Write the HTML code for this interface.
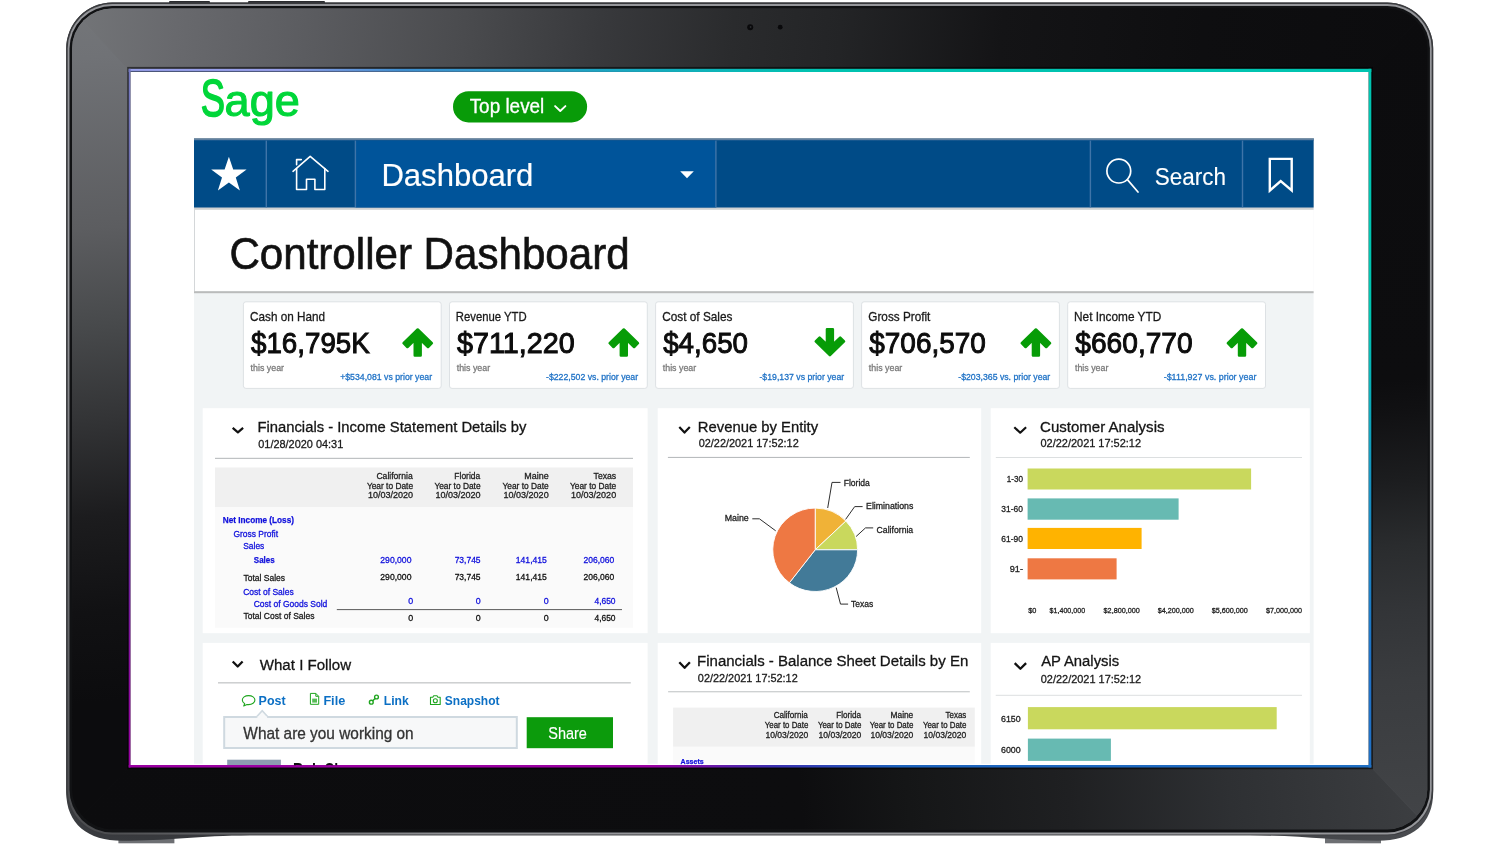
<!DOCTYPE html>
<html lang="en"><head><meta charset="utf-8"><title>Controller Dashboard</title><style>html,body{margin:0;padding:0;background:#fff}
body{width:1499px;height:844px;overflow:hidden;font-family:"Liberation Sans",sans-serif;}
svg{display:block}
</style></head><body>
<svg width="1499" height="844" viewBox="0 0 1499 844" font-family="Liberation Sans, sans-serif">
<svg x="0" y="0" width="1499" height="844" viewBox="0 0 1499 844">
<defs><linearGradient id="fg" gradientUnits="userSpaceOnUse" x1="66" y1="3" x2="889.0" y2="1201.1"><stop offset="0.0000" stop-color="#76787b"/><stop offset="0.0413" stop-color="#707276"/><stop offset="0.1238" stop-color="#5c5d61"/><stop offset="0.1836" stop-color="#494a4d"/><stop offset="0.2373" stop-color="#353638"/><stop offset="0.2889" stop-color="#252628"/><stop offset="0.3370" stop-color="#1a1a1c"/><stop offset="0.3851" stop-color="#131315"/><stop offset="0.4470" stop-color="#0d0d0f"/><stop offset="0.7015" stop-color="#0d0d0f"/><stop offset="0.7565" stop-color="#18191b"/><stop offset="0.8116" stop-color="#262729"/><stop offset="0.8666" stop-color="#343638"/><stop offset="0.9216" stop-color="#404245"/><stop offset="0.9766" stop-color="#45474b"/><stop offset="1.0000" stop-color="#46484c"/></linearGradient>
<linearGradient id="ll" gradientUnits="userSpaceOnUse" x1="90" y1="820" x2="330" y2="640"><stop offset="0" stop-color="#4c4d50"/><stop offset="1" stop-color="#95969a"/></linearGradient><linearGradient id="rim" x1="0" y1="0" x2="1" y2="0"><stop offset="0" stop-color="#3a3c40"/><stop offset="0.5" stop-color="#2a2b2e"/><stop offset="1" stop-color="#4a4c50"/></linearGradient></defs>
<rect x="118.4" y="838" width="56" height="5.3" fill="#6d6f73"/>
<rect x="1325" y="838" width="56" height="5.3" fill="#6d6f73"/>
<rect x="169" y="0.9" width="41" height="4" rx="1" fill="#2a2b2e"/>
<rect x="248" y="0.9" width="77" height="4" rx="1" fill="#2a2b2e"/>
<path d="M66.2,48.8 A46,46 0 0 1 112.2,2.6 H1386.8 A46,46 0 0 1 1433.2,48.8 V792 C1433.2,824 1412,840.8 1378,840.8 C1335,840.8 1300,835.6 1250,835.2 H250 C200,835.6 165,840.8 122,840.8 C88,840.8 66.2,824 66.2,792 Z" fill="url(#rim)"/>
<rect x="66.2" y="2.6" width="1367" height="832.6" rx="46" ry="46" fill="#3a3b3e"/>
<rect x="67.7" y="4.1" width="1364" height="830.4" rx="44.5" ry="44.5" fill="url(#ll)"/>
<rect x="69.5" y="5.9" width="1360.4" height="826.5" rx="42.7" ry="42.7" fill="#111214"/>
<defs><linearGradient id="gt" gradientUnits="userSpaceOnUse" x1="66" y1="-25" x2="1433" y2="95"><stop offset="0.0000" stop-color="#747679"/><stop offset="0.0834" stop-color="#68696d"/><stop offset="0.1712" stop-color="#5c5d61"/><stop offset="0.2926" stop-color="#4a4b4e"/><stop offset="0.3906" stop-color="#38393c"/><stop offset="0.4879" stop-color="#2a2b2d"/><stop offset="0.5662" stop-color="#232426"/><stop offset="0.6832" stop-color="#141416"/><stop offset="0.8296" stop-color="#0e0e10"/><stop offset="1.0000" stop-color="#0c0c0e"/></linearGradient><linearGradient id="gl" gradientUnits="userSpaceOnUse" x1="58" y1="3" x2="138" y2="835"><stop offset="0.0000" stop-color="#747679"/><stop offset="0.0685" stop-color="#707276"/><stop offset="0.2728" stop-color="#5c5d60"/><stop offset="0.3858" stop-color="#484a4c"/><stop offset="0.5000" stop-color="#333436"/><stop offset="0.6154" stop-color="#1c1c1e"/><stop offset="0.7296" stop-color="#111113"/><stop offset="0.8377" stop-color="#0c0c0e"/><stop offset="1.0000" stop-color="#0c0c0e"/></linearGradient><linearGradient id="gr" gradientUnits="userSpaceOnUse" x1="1360" y1="3" x2="1440" y2="835"><stop offset="0.0000" stop-color="#0c0c0e"/><stop offset="0.4531" stop-color="#0d0d0f"/><stop offset="0.4928" stop-color="#111113"/><stop offset="0.5733" stop-color="#1c1d1f"/><stop offset="0.6514" stop-color="#2a2c2e"/><stop offset="0.7296" stop-color="#333538"/><stop offset="0.8113" stop-color="#3a3c3f"/><stop offset="0.9315" stop-color="#404245"/><stop offset="1.0000" stop-color="#434548"/></linearGradient><linearGradient id="gb" gradientUnits="userSpaceOnUse" x1="66" y1="860" x2="1433" y2="740"><stop offset="0.0000" stop-color="#0c0c0e"/><stop offset="0.5369" stop-color="#0d0d0f"/><stop offset="0.6152" stop-color="#151617"/><stop offset="0.7323" stop-color="#1f2022"/><stop offset="0.8493" stop-color="#2e3033"/><stop offset="0.9663" stop-color="#3a3c3f"/><stop offset="1.0000" stop-color="#3e4043"/></linearGradient><clipPath id="fc"><rect x="72.1" y="8.5" width="1355.2" height="820.8" rx="40.1" ry="40.1"/></clipPath></defs>
<g clip-path="url(#fc)">
<rect x="60" y="0" width="1380" height="844" fill="url(#fg)"/>
<polygon points="60,-3 1440,-3 1371.5,69 128.5,69" fill="url(#gt)"/>
<polygon points="60,840 1440,840 1371.5,768 128.5,768" fill="url(#gb)"/>
<polygon points="60,-2 129.4,70.6 129.4,766.4 60,839" fill="url(#gl)"/>
<polygon points="1440,-2 1370.6,70.6 1370.6,766.4 1440,839" fill="url(#gr)"/>
</g>
<circle cx="750.2" cy="27.2" r="3" fill="#09090b"/><circle cx="750.6" cy="27" r="0.9" fill="#2a2c30"/>
<circle cx="780.2" cy="27.2" r="2.4" fill="#09090b"/>
</svg>
<svg x="0" y="0" width="1499" height="844" viewBox="0 0 1499 844">
<defs>
<linearGradient id="bt" x1="0" y1="0" x2="1" y2="0"><stop offset="0" stop-color="#98a0ec"/><stop offset="0.12" stop-color="#98a0ec"/><stop offset="0.22" stop-color="#3f8fd0"/><stop offset="0.4" stop-color="#18a8c0"/><stop offset="0.55" stop-color="#00c2b0"/><stop offset="1" stop-color="#00c4b0"/></linearGradient>
<linearGradient id="bs" x1="0" y1="0" x2="1" y2="0"><stop offset="0" stop-color="#4a5578"/><stop offset="0.3" stop-color="#4a5578" stop-opacity="0.9"/><stop offset="1" stop-color="#2a7890" stop-opacity="0"/></linearGradient><linearGradient id="bb" x1="0" y1="0" x2="1" y2="0"><stop offset="0" stop-color="#9a00a2"/><stop offset="0.42" stop-color="#9a00a2"/><stop offset="0.52" stop-color="#3a30b0"/><stop offset="0.62" stop-color="#1c62bc"/><stop offset="1" stop-color="#2070c4"/></linearGradient>
<linearGradient id="bl" x1="0" y1="0" x2="0" y2="1"><stop offset="0" stop-color="#7478c0"/><stop offset="0.2" stop-color="#6a69a8"/><stop offset="0.55" stop-color="#4a38a0"/><stop offset="0.85" stop-color="#8a10a0"/><stop offset="1" stop-color="#9a00a2"/></linearGradient>
<linearGradient id="br" x1="0" y1="0" x2="0" y2="1"><stop offset="0" stop-color="#00c4b0"/><stop offset="0.35" stop-color="#00c4b0"/><stop offset="0.6" stop-color="#1890c0"/><stop offset="0.85" stop-color="#2070c4"/><stop offset="1" stop-color="#2070c4"/></linearGradient>
</defs>
<rect x="127.2" y="66.9" width="1245.8" height="702.3" fill="#000" fill-opacity="0.55"/>
<rect x="128.7" y="68.8" width="1242.6" height="698.7" fill="#101012"/>
<rect x="128.7" y="68.8" width="1242.6" height="3.2" fill="url(#bt)"/>
<rect x="128.7" y="70.9" width="600" height="1.1" fill="url(#bs)"/>
<rect x="128.7" y="765" width="1242.6" height="2.5" fill="url(#bb)"/>
<rect x="128.7" y="68.8" width="1.9" height="698.7" fill="url(#bl)"/>
<rect x="1368.5" y="68.8" width="2.8" height="698.7" fill="url(#br)"/>
<rect x="130.6" y="72" width="1237.9" height="693" fill="#fff"/>
</svg>
<rect x="194.00" y="209.60" width="1119.60" height="554.20" fill="#f1f4f5"/>
<rect x="194.00" y="209.60" width="1119.60" height="81.70" fill="#fff"/>
<rect x="194.00" y="209.60" width="1.00" height="81.70" fill="#d4d7d9"/>
<rect x="194.00" y="291.20" width="1119.60" height="2.00" fill="#babbbb"/>
<rect x="453" y="91.3" width="134.1" height="31.1" rx="15.55" fill="#089b08"/>
<path d="M555.1,106.1 L560.25,111 L565.4,106.1" fill="none" stroke="#fff" stroke-width="1.9" stroke-linecap="round" stroke-linejoin="round"/>
<rect x="194.00" y="138.20" width="1119.60" height="71.60" fill="#cfd1d2"/>
<rect x="194.00" y="138.20" width="1119.60" height="69.30" fill="#004b87"/>
<defs><linearGradient id="nt" x1="0" y1="0" x2="0" y2="1"><stop offset="0" stop-color="#9aa5b0"/><stop offset="0.55" stop-color="#5f7f9f"/><stop offset="1" stop-color="#1f5c92"/></linearGradient></defs>
<rect x="194.00" y="138.20" width="1119.60" height="2.40" fill="url(#nt)"/>
<rect x="356.00" y="140.60" width="359.90" height="66.80" fill="#00549a"/>
<rect x="265.60" y="140.60" width="1.40" height="66.70" fill="#3f74a8"/>
<rect x="354.70" y="140.60" width="1.40" height="66.70" fill="#3f74a8"/>
<rect x="715.20" y="140.60" width="1.40" height="66.70" fill="#3f74a8"/>
<rect x="1089.70" y="140.60" width="1.40" height="66.70" fill="#3f74a8"/>
<rect x="1241.80" y="140.60" width="1.40" height="66.70" fill="#3f74a8"/>
<svg x="209" y="154" width="40" height="40" viewBox="0 0 40 40"><polygon fill="#fff" points="19.9,2.8 24.2,15.6 37.6,15.6 26.8,23.6 30.9,36.4 19.9,28.5 8.9,36.4 13,23.6 2.2,15.6 15.6,15.6"/></svg>
<svg x="290" y="153" width="42" height="40" viewBox="0 0 42 40"><g fill="none" stroke="#fff" stroke-width="1.6" stroke-linecap="round" stroke-linejoin="round"><path d="M3,18.3 L20.2,3.4 L38,18.3"/><path d="M6.6,15.6 V36.5 H16.5 V26.2 H24.9 V36.5 H34.8 V15.6"/><path d="M6.6,11.8 V6.6 H11.3"/></g></svg>
<svg x="679" y="170" width="16" height="10" viewBox="0 0 16 10"><polygon fill="#fff" points="1.2,1.2 14.8,1.2 8,8.2"/></svg>
<svg x="1100" y="153" width="44" height="44" viewBox="0 0 44 44"><g fill="none" stroke="#fff" stroke-width="1.7" stroke-linecap="round"><circle cx="18.8" cy="18.1" r="11.9"/><path d="M27.4,26.6 L38,39"/></g></svg>
<svg x="1264" y="153" width="34" height="44" viewBox="0 0 34 44"><path d="M5.8,5.9 H27.7 V37.5 L16.7,28 L5.8,37.5 Z" fill="none" stroke="#fff" stroke-width="2.4" stroke-linejoin="miter"/></svg>
<rect x="243.4" y="301.8" width="197.8" height="86.6" rx="2.5" fill="#fff" stroke="#dde1e4" stroke-width="1"/>
<polygon points="417.7,329.5 431.8,343.2 428.0,347.0 420.6,339.9 420.6,355.4 414.8,355.4 414.8,339.9 407.4,347.0 403.6,343.2" fill="#079c07" stroke="#079c07" stroke-width="2.6" stroke-linejoin="round"/>
<rect x="449.5" y="301.8" width="197.8" height="86.6" rx="2.5" fill="#fff" stroke="#dde1e4" stroke-width="1"/>
<polygon points="623.8,329.5 637.9,343.2 634.1,347.0 626.7,339.9 626.7,355.4 620.9,355.4 620.9,339.9 613.5,347.0 609.7,343.2" fill="#079c07" stroke="#079c07" stroke-width="2.6" stroke-linejoin="round"/>
<rect x="655.6" y="301.8" width="197.8" height="86.6" rx="2.5" fill="#fff" stroke="#dde1e4" stroke-width="1"/>
<polygon points="829.9,355.1 844.0,341.4 840.2,337.6 832.8,344.7 832.8,329.2 827.0,329.2 827.0,344.7 819.6,337.6 815.8,341.4" fill="#079c07" stroke="#079c07" stroke-width="2.6" stroke-linejoin="round"/>
<rect x="861.6" y="301.8" width="197.8" height="86.6" rx="2.5" fill="#fff" stroke="#dde1e4" stroke-width="1"/>
<polygon points="1035.9,329.5 1050.0,343.2 1046.2,347.0 1038.8,339.9 1038.8,355.4 1033.0,355.4 1033.0,339.9 1025.6,347.0 1021.8,343.2" fill="#079c07" stroke="#079c07" stroke-width="2.6" stroke-linejoin="round"/>
<rect x="1067.7" y="301.8" width="197.8" height="86.6" rx="2.5" fill="#fff" stroke="#dde1e4" stroke-width="1"/>
<polygon points="1242.0,329.5 1256.1,343.2 1252.3,347.0 1244.9,339.9 1244.9,355.4 1239.1,355.4 1239.1,339.9 1231.7,347.0 1227.9,343.2" fill="#079c07" stroke="#079c07" stroke-width="2.6" stroke-linejoin="round"/>
<rect x="202.70" y="408.20" width="444.90" height="225.00" fill="#fff"/>
<path d="M232.7,427.9 L237.9,432.4 L243.1,427.9" fill="none" stroke="#111" stroke-width="2.2" stroke-linecap="butt" stroke-linejoin="round"/>
<rect x="215.00" y="457.80" width="418.00" height="1.10" fill="#b9bcbe"/>
<rect x="215.00" y="467.50" width="418.00" height="39.50" fill="#f0f0f0"/>
<rect x="215.00" y="507.00" width="418.00" height="120.70" fill="#fafafa"/>
<rect x="336.80" y="609.10" width="285.20" height="1.00" fill="#5a5a5a"/>
<rect x="657.70" y="408.20" width="323.50" height="225.00" fill="#fff"/>
<path d="M679.3,427.1 L684.5,432.6 L689.8,427.1" fill="none" stroke="#111" stroke-width="2.2" stroke-linecap="butt" stroke-linejoin="round"/>
<rect x="667.90" y="456.90" width="301.90" height="1.10" fill="#b9bcbe"/>
<path d="M815.2,549.8 L815.20,508.10 A42.4,41.7 0 0 1 845.90,521.04 Z" fill="#f0b237" stroke="#fff" stroke-width="0.9" stroke-linejoin="round"/>
<path d="M815.2,549.8 L845.90,521.04 A42.4,41.7 0 0 1 857.60,549.80 Z" fill="#c9d85d" stroke="#fff" stroke-width="0.9" stroke-linejoin="round"/>
<path d="M815.2,549.8 L857.60,549.80 A42.4,41.7 0 0 1 789.33,582.84 Z" fill="#427a98" stroke="#fff" stroke-width="0.9" stroke-linejoin="round"/>
<path d="M815.2,549.8 L789.33,582.84 A42.4,41.7 0 0 1 815.20,508.10 Z" fill="#ee7843" stroke="#fff" stroke-width="0.9" stroke-linejoin="round"/>
<polyline points="827.7,508.0 832.0,482.4 840.5,482.4" fill="none" stroke="#2e2e2e" stroke-width="1"/>
<polyline points="845.6,519.4 854.7,506.6 862.6,506.6" fill="none" stroke="#2e2e2e" stroke-width="1"/>
<polyline points="856.1,536.5 865.5,527.9 873.2,527.9" fill="none" stroke="#2e2e2e" stroke-width="1"/>
<polyline points="836.2,587.6 840.5,604.1 848.1,604.1" fill="none" stroke="#2e2e2e" stroke-width="1"/>
<polyline points="752.3,518.8 759.4,518.8 775.7,530.8" fill="none" stroke="#2e2e2e" stroke-width="1"/>
<rect x="990.70" y="408.20" width="319.10" height="225.00" fill="#fff"/>
<path d="M1014.3,427.3 L1020.2,432.7 L1026.1,427.3" fill="none" stroke="#111" stroke-width="2.2" stroke-linecap="butt" stroke-linejoin="round"/>
<rect x="995.80" y="457.00" width="306.20" height="1.00" fill="#dcdfe0"/>
<rect x="1027.60" y="468.50" width="223.50" height="21.00" fill="#c9d85d"/>
<rect x="1027.60" y="498.40" width="151.00" height="21.30" fill="#67bab2"/>
<rect x="1027.60" y="527.90" width="114.00" height="21.10" fill="#ffb300"/>
<rect x="1027.60" y="558.30" width="89.00" height="21.10" fill="#ee7843"/>
<rect x="202.70" y="642.90" width="444.90" height="120.90" fill="#fff"/>
<path d="M232.7,661.5 L237.7,666.5 L242.6,661.5" fill="none" stroke="#111" stroke-width="2.3" stroke-linecap="butt" stroke-linejoin="round"/>
<rect x="218.00" y="682.30" width="412.80" height="1.10" fill="#b9bcbe"/>
<path d="M248.6,695.6 c-3.6,0 -6.3,2 -6.3,4.5 c0,1.5 0.9,2.8 2.4,3.6 l-1,2.3 l3.3,-1.5 c0.5,0.1 1,0.1 1.6,0.1 c3.6,0 6.3,-2 6.3,-4.5 c0,-2.5 -2.7,-4.5 -6.3,-4.5 z" fill="none" stroke="#1fa51f" stroke-width="1.1" stroke-linejoin="round"/>
<path d="M310.4,693.4 h5.4 l2.9,2.9 v8 h-8.3 z M315.8,693.4 v2.9 h2.9" fill="none" stroke="#1fa51f" stroke-width="1" stroke-linejoin="round"/><rect x="312.2" y="698.6" width="4.8" height="4" fill="#1fa51f" opacity="0.75"/>
<g fill="none" stroke="#1fa51f" stroke-width="1.4"><circle cx="371.3" cy="702.2" r="1.9"/><circle cx="376.5" cy="697" r="1.9"/><path d="M372.7,700.8 L375.1,698.4"/></g>
<g fill="none" stroke="#1fa51f" stroke-width="1.1" stroke-linejoin="round"><path d="M430.5,697.3 h2.3 l0.9,-1.6 h3.3 l0.9,1.6 h2.3 v7.2 h-9.7 z"/><circle cx="435.35" cy="700.8" r="2"/></g>
<rect x="224.2" y="717" width="292.6" height="31" fill="#f7f8f9" stroke="#cfd9e0" stroke-width="2"/>
<path d="M256.2,717.2 L262.2,710.6 L268.2,717.2" fill="#f7f8f9" stroke="#cfd9e0" stroke-width="1.6"/><rect x="257.4" y="716.6" width="9.6" height="2" fill="#f7f8f9"/>
<rect x="526.70" y="717.20" width="86.30" height="31.00" fill="#0c9b0c"/>
<rect x="227.20" y="759.70" width="53.70" height="5.30" fill="#8d9bb1"/>
<rect x="657.70" y="642.90" width="323.50" height="120.90" fill="#fff"/>
<path d="M679.3,662.3 L684.6,667.8 L689.9,662.3" fill="none" stroke="#111" stroke-width="2.3" stroke-linecap="butt" stroke-linejoin="round"/>
<rect x="668.10" y="691.20" width="301.70" height="1.10" fill="#c3c6c8"/>
<rect x="673.10" y="707.60" width="301.70" height="39.20" fill="#f0f0f0"/>
<rect x="673.10" y="746.80" width="301.70" height="17.00" fill="#fafafa"/>
<rect x="990.70" y="642.90" width="319.10" height="120.90" fill="#fff"/>
<path d="M1014.7,663.1 L1020.4,668.8 L1026.1,663.1" fill="none" stroke="#111" stroke-width="2.3" stroke-linecap="butt" stroke-linejoin="round"/>
<rect x="995.70" y="694.80" width="306.30" height="1.00" fill="#dcdfe0"/>
<rect x="1027.90" y="707.10" width="248.80" height="22.20" fill="#c9d85d"/>
<rect x="1027.90" y="738.60" width="83.00" height="22.30" fill="#67bab2"/>
<g>
<text y="116.2" fill="#00d639" stroke="#00d639" stroke-width="1.1" stroke-linejoin="round"><tspan x="200.7" font-size="51" stroke-width="1.7" textLength="24.2" lengthAdjust="spacingAndGlyphs">S</tspan><tspan x="224.6" font-size="43.5" textLength="75.2" lengthAdjust="spacingAndGlyphs">age</tspan></text>
<text x="469.67" y="113.20" font-size="19.44" fill="#fff" textLength="74.65" lengthAdjust="spacingAndGlyphs" stroke="#fff" stroke-width="0.3">Top level</text>
<text x="381.42" y="185.70" font-size="32.26" fill="#fff" textLength="151.92" lengthAdjust="spacingAndGlyphs" stroke="#fff" stroke-width="0.2">Dashboard</text>
<text x="1154.64" y="185.10" font-size="23.78" fill="#fff" textLength="71.35" lengthAdjust="spacingAndGlyphs" stroke="#fff" stroke-width="0.1">Search</text>
<text x="229.42" y="268.80" font-size="44.36" fill="#111" textLength="400.19" lengthAdjust="spacingAndGlyphs" stroke="#111" stroke-width="0.65">Controller Dashboard</text>
<text x="250.06" y="320.70" font-size="12.93" fill="#1a1a1a" textLength="75.03" lengthAdjust="spacingAndGlyphs" stroke="#1a1a1a" stroke-width="0.3">Cash on Hand</text>
<text x="251.02" y="353.20" font-size="29.47" fill="#0c0c0c" textLength="118.77" lengthAdjust="spacingAndGlyphs" stroke="#0c0c0c" stroke-width="1.0">$16,795K</text>
<text x="250.62" y="370.50" font-size="9.62" fill="#7a7a7a" textLength="33.46" lengthAdjust="spacingAndGlyphs" stroke="#7a7a7a" stroke-width="0.3">this year</text>
<text x="432.08" y="380.00" font-size="9.62" fill="#1f72c6" text-anchor="end" textLength="91.92" lengthAdjust="spacingAndGlyphs" stroke="#1f72c6" stroke-width="0.3">+$534,081 vs prior year</text>
<text x="455.83" y="320.70" font-size="12.93" fill="#1a1a1a" textLength="70.85" lengthAdjust="spacingAndGlyphs" stroke="#1a1a1a" stroke-width="0.3">Revenue YTD</text>
<text x="457.09" y="353.20" font-size="29.47" fill="#0c0c0c" textLength="117.64" lengthAdjust="spacingAndGlyphs" stroke="#0c0c0c" stroke-width="1.0">$711,220</text>
<text x="456.70" y="370.50" font-size="9.62" fill="#7a7a7a" textLength="33.46" lengthAdjust="spacingAndGlyphs" stroke="#7a7a7a" stroke-width="0.3">this year</text>
<text x="638.13" y="380.00" font-size="9.62" fill="#1f72c6" text-anchor="end" textLength="92.15" lengthAdjust="spacingAndGlyphs" stroke="#1f72c6" stroke-width="0.3">-$222,502 vs. prior year</text>
<text x="662.22" y="320.70" font-size="12.93" fill="#1a1a1a" textLength="70.23" lengthAdjust="spacingAndGlyphs" stroke="#1a1a1a" stroke-width="0.3">Cost of Sales</text>
<text x="663.18" y="353.20" font-size="29.47" fill="#0c0c0c" textLength="84.81" lengthAdjust="spacingAndGlyphs" stroke="#0c0c0c" stroke-width="1.0">$4,650</text>
<text x="662.78" y="370.50" font-size="9.62" fill="#7a7a7a" textLength="33.46" lengthAdjust="spacingAndGlyphs" stroke="#7a7a7a" stroke-width="0.3">this year</text>
<text x="844.22" y="380.00" font-size="9.62" fill="#1f72c6" text-anchor="end" textLength="84.76" lengthAdjust="spacingAndGlyphs" stroke="#1f72c6" stroke-width="0.3">-$19,137 vs prior year</text>
<text x="868.30" y="320.70" font-size="12.93" fill="#1a1a1a" textLength="62.03" lengthAdjust="spacingAndGlyphs" stroke="#1a1a1a" stroke-width="0.3">Gross Profit</text>
<text x="869.26" y="353.20" font-size="29.47" fill="#0c0c0c" textLength="116.59" lengthAdjust="spacingAndGlyphs" stroke="#0c0c0c" stroke-width="1.0">$706,570</text>
<text x="868.86" y="370.50" font-size="9.62" fill="#7a7a7a" textLength="33.46" lengthAdjust="spacingAndGlyphs" stroke="#7a7a7a" stroke-width="0.3">this year</text>
<text x="1050.29" y="380.00" font-size="9.62" fill="#1f72c6" text-anchor="end" textLength="92.05" lengthAdjust="spacingAndGlyphs" stroke="#1f72c6" stroke-width="0.3">-$203,365 vs. prior year</text>
<text x="1074.02" y="320.70" font-size="12.93" fill="#1a1a1a" textLength="87.22" lengthAdjust="spacingAndGlyphs" stroke="#1a1a1a" stroke-width="0.3">Net Income YTD</text>
<text x="1075.34" y="353.20" font-size="29.47" fill="#0c0c0c" textLength="117.29" lengthAdjust="spacingAndGlyphs" stroke="#0c0c0c" stroke-width="1.0">$660,770</text>
<text x="1074.94" y="370.50" font-size="9.62" fill="#7a7a7a" textLength="33.46" lengthAdjust="spacingAndGlyphs" stroke="#7a7a7a" stroke-width="0.3">this year</text>
<text x="1256.38" y="380.00" font-size="9.62" fill="#1f72c6" text-anchor="end" textLength="92.67" lengthAdjust="spacingAndGlyphs" stroke="#1f72c6" stroke-width="0.3">-$111,927 vs. prior year</text>
<text x="257.47" y="431.80" font-size="15.30" fill="#151515" textLength="268.88" lengthAdjust="spacingAndGlyphs" stroke="#151515" stroke-width="0.3">Financials - Income Statement Details by</text>
<text x="258.27" y="447.60" font-size="11.79" fill="#1a1a1a" textLength="84.98" lengthAdjust="spacingAndGlyphs" stroke="#1a1a1a" stroke-width="0.3">01/28/2020 04:31</text>
<text x="412.70" y="478.70" font-size="9.10" fill="#222" text-anchor="end" textLength="36.28" lengthAdjust="spacingAndGlyphs" stroke="#222" stroke-width="0.3">California</text>
<text x="413.11" y="488.50" font-size="9.10" fill="#222" text-anchor="end" textLength="46.22" lengthAdjust="spacingAndGlyphs" stroke="#222" stroke-width="0.3">Year to Date</text>
<text x="413.07" y="498.30" font-size="9.10" fill="#222" text-anchor="end" textLength="45.19" lengthAdjust="spacingAndGlyphs" stroke="#222" stroke-width="0.3">10/03/2020</text>
<text x="480.22" y="478.70" font-size="9.10" fill="#222" text-anchor="end" textLength="25.85" lengthAdjust="spacingAndGlyphs" stroke="#222" stroke-width="0.3">Florida</text>
<text x="480.61" y="488.50" font-size="9.10" fill="#222" text-anchor="end" textLength="46.22" lengthAdjust="spacingAndGlyphs" stroke="#222" stroke-width="0.3">Year to Date</text>
<text x="480.57" y="498.30" font-size="9.10" fill="#222" text-anchor="end" textLength="45.19" lengthAdjust="spacingAndGlyphs" stroke="#222" stroke-width="0.3">10/03/2020</text>
<text x="548.70" y="478.70" font-size="9.10" fill="#222" text-anchor="end" textLength="24.36" lengthAdjust="spacingAndGlyphs" stroke="#222" stroke-width="0.3">Maine</text>
<text x="548.71" y="488.50" font-size="9.10" fill="#222" text-anchor="end" textLength="46.22" lengthAdjust="spacingAndGlyphs" stroke="#222" stroke-width="0.3">Year to Date</text>
<text x="548.67" y="498.30" font-size="9.10" fill="#222" text-anchor="end" textLength="45.19" lengthAdjust="spacingAndGlyphs" stroke="#222" stroke-width="0.3">10/03/2020</text>
<text x="616.17" y="478.70" font-size="9.10" fill="#222" text-anchor="end" textLength="22.60" lengthAdjust="spacingAndGlyphs" stroke="#222" stroke-width="0.3">Texas</text>
<text x="616.21" y="488.50" font-size="9.10" fill="#222" text-anchor="end" textLength="46.22" lengthAdjust="spacingAndGlyphs" stroke="#222" stroke-width="0.3">Year to Date</text>
<text x="616.17" y="498.30" font-size="9.10" fill="#222" text-anchor="end" textLength="45.19" lengthAdjust="spacingAndGlyphs" stroke="#222" stroke-width="0.3">10/03/2020</text>
<text x="222.79" y="522.70" font-size="8.89" fill="#1010dc" font-weight="700" textLength="71.18" lengthAdjust="spacingAndGlyphs" stroke="#1010dc" stroke-width="0.25">Net Income (Loss)</text>
<text x="233.43" y="536.90" font-size="9.10" fill="#1010dc" textLength="44.66" lengthAdjust="spacingAndGlyphs" stroke="#1010dc" stroke-width="0.3">Gross Profit</text>
<text x="243.27" y="549.00" font-size="9.10" fill="#1010dc" textLength="20.98" lengthAdjust="spacingAndGlyphs" stroke="#1010dc" stroke-width="0.3">Sales</text>
<text x="253.83" y="562.60" font-size="9.10" fill="#1010dc" font-weight="700" textLength="20.86" lengthAdjust="spacingAndGlyphs" stroke="#1010dc" stroke-width="0.25">Sales</text>
<text x="243.48" y="581.00" font-size="9.10" fill="#1a1a1a" textLength="41.58" lengthAdjust="spacingAndGlyphs" stroke="#1a1a1a" stroke-width="0.3">Total Sales</text>
<text x="243.23" y="594.80" font-size="9.10" fill="#1010dc" textLength="50.44" lengthAdjust="spacingAndGlyphs" stroke="#1010dc" stroke-width="0.3">Cost of Sales</text>
<text x="253.63" y="606.80" font-size="9.10" fill="#1010dc" textLength="73.65" lengthAdjust="spacingAndGlyphs" stroke="#1010dc" stroke-width="0.3">Cost of Goods Sold</text>
<text x="243.48" y="618.80" font-size="9.10" fill="#1a1a1a" textLength="70.95" lengthAdjust="spacingAndGlyphs" stroke="#1a1a1a" stroke-width="0.3">Total Cost of Sales</text>
<text x="411.45" y="562.80" font-size="9.10" fill="#1010dc" text-anchor="end" textLength="31.13" lengthAdjust="spacingAndGlyphs" stroke="#1010dc" stroke-width="0.3">290,000</text>
<text x="411.45" y="580.00" font-size="9.10" fill="#111" text-anchor="end" textLength="31.13" lengthAdjust="spacingAndGlyphs" stroke="#111" stroke-width="0.3">290,000</text>
<text x="480.58" y="562.80" font-size="9.10" fill="#1010dc" text-anchor="end" textLength="25.95" lengthAdjust="spacingAndGlyphs" stroke="#1010dc" stroke-width="0.3">73,745</text>
<text x="480.58" y="580.00" font-size="9.10" fill="#111" text-anchor="end" textLength="25.95" lengthAdjust="spacingAndGlyphs" stroke="#111" stroke-width="0.3">73,745</text>
<text x="546.89" y="562.80" font-size="9.10" fill="#1010dc" text-anchor="end" textLength="31.09" lengthAdjust="spacingAndGlyphs" stroke="#1010dc" stroke-width="0.3">141,415</text>
<text x="546.89" y="580.00" font-size="9.10" fill="#111" text-anchor="end" textLength="31.09" lengthAdjust="spacingAndGlyphs" stroke="#111" stroke-width="0.3">141,415</text>
<text x="614.35" y="562.80" font-size="9.10" fill="#1010dc" text-anchor="end" textLength="30.82" lengthAdjust="spacingAndGlyphs" stroke="#1010dc" stroke-width="0.3">206,060</text>
<text x="614.35" y="580.00" font-size="9.10" fill="#111" text-anchor="end" textLength="30.82" lengthAdjust="spacingAndGlyphs" stroke="#111" stroke-width="0.3">206,060</text>
<text x="413.07" y="603.60" font-size="9.10" fill="#1010dc" text-anchor="end" textLength="4.93" lengthAdjust="spacingAndGlyphs" stroke="#1010dc" stroke-width="0.3">0</text>
<text x="413.07" y="620.70" font-size="9.10" fill="#111" text-anchor="end" textLength="4.93" lengthAdjust="spacingAndGlyphs" stroke="#111" stroke-width="0.3">0</text>
<text x="480.57" y="603.60" font-size="9.10" fill="#1010dc" text-anchor="end" textLength="4.93" lengthAdjust="spacingAndGlyphs" stroke="#1010dc" stroke-width="0.3">0</text>
<text x="480.57" y="620.70" font-size="9.10" fill="#111" text-anchor="end" textLength="4.93" lengthAdjust="spacingAndGlyphs" stroke="#111" stroke-width="0.3">0</text>
<text x="548.67" y="603.60" font-size="9.10" fill="#1010dc" text-anchor="end" textLength="4.93" lengthAdjust="spacingAndGlyphs" stroke="#1010dc" stroke-width="0.3">0</text>
<text x="548.67" y="620.70" font-size="9.10" fill="#111" text-anchor="end" textLength="4.93" lengthAdjust="spacingAndGlyphs" stroke="#111" stroke-width="0.3">0</text>
<text x="615.57" y="603.60" font-size="9.10" fill="#1010dc" text-anchor="end" textLength="21.08" lengthAdjust="spacingAndGlyphs" stroke="#1010dc" stroke-width="0.3">4,650</text>
<text x="615.57" y="620.70" font-size="9.10" fill="#111" text-anchor="end" textLength="21.08" lengthAdjust="spacingAndGlyphs" stroke="#111" stroke-width="0.3">4,650</text>
<text x="697.86" y="431.50" font-size="15.30" fill="#151515" textLength="120.30" lengthAdjust="spacingAndGlyphs" stroke="#151515" stroke-width="0.3">Revenue by Entity</text>
<text x="698.67" y="446.90" font-size="11.79" fill="#1a1a1a" textLength="100.08" lengthAdjust="spacingAndGlyphs" stroke="#1a1a1a" stroke-width="0.3">02/22/2021 17:52:12</text>
<text x="843.67" y="485.90" font-size="9.10" fill="#222" textLength="26.16" lengthAdjust="spacingAndGlyphs" stroke="#222" stroke-width="0.3">Florida</text>
<text x="866.05" y="509.10" font-size="9.10" fill="#222" textLength="47.22" lengthAdjust="spacingAndGlyphs" stroke="#222" stroke-width="0.3">Eliminations</text>
<text x="876.62" y="532.70" font-size="9.10" fill="#222" textLength="36.58" lengthAdjust="spacingAndGlyphs" stroke="#222" stroke-width="0.3">California</text>
<text x="850.98" y="606.70" font-size="9.10" fill="#222" textLength="22.19" lengthAdjust="spacingAndGlyphs" stroke="#222" stroke-width="0.3">Texas</text>
<text x="724.74" y="520.90" font-size="9.10" fill="#222" textLength="24.05" lengthAdjust="spacingAndGlyphs" stroke="#222" stroke-width="0.3">Maine</text>
<text x="1040.10" y="431.50" font-size="15.30" fill="#151515" textLength="124.39" lengthAdjust="spacingAndGlyphs" stroke="#151515" stroke-width="0.3">Customer Analysis</text>
<text x="1040.47" y="446.90" font-size="11.79" fill="#1a1a1a" textLength="100.58" lengthAdjust="spacingAndGlyphs" stroke="#1a1a1a" stroke-width="0.3">02/22/2021 17:52:12</text>
<text x="1022.95" y="482.30" font-size="9.10" fill="#222" text-anchor="end" textLength="16.20" lengthAdjust="spacingAndGlyphs" stroke="#222" stroke-width="0.3">1-30</text>
<text x="1022.97" y="512.35" font-size="9.10" fill="#222" text-anchor="end" textLength="21.61" lengthAdjust="spacingAndGlyphs" stroke="#222" stroke-width="0.3">31-60</text>
<text x="1022.97" y="541.75" font-size="9.10" fill="#222" text-anchor="end" textLength="21.75" lengthAdjust="spacingAndGlyphs" stroke="#222" stroke-width="0.3">61-90</text>
<text x="1023.07" y="572.15" font-size="9.10" fill="#222" text-anchor="end" textLength="13.33" lengthAdjust="spacingAndGlyphs" stroke="#222" stroke-width="0.3">91-</text>
<text x="1028.28" y="612.60" font-size="7.86" fill="#222" textLength="8.15" lengthAdjust="spacingAndGlyphs" stroke="#222" stroke-width="0.3">$0</text>
<text x="1049.58" y="612.60" font-size="7.86" fill="#222" textLength="35.52" lengthAdjust="spacingAndGlyphs" stroke="#222" stroke-width="0.3">$1,400,000</text>
<text x="1103.58" y="612.60" font-size="7.86" fill="#222" textLength="36.23" lengthAdjust="spacingAndGlyphs" stroke="#222" stroke-width="0.3">$2,800,000</text>
<text x="1157.68" y="612.60" font-size="7.86" fill="#222" textLength="36.12" lengthAdjust="spacingAndGlyphs" stroke="#222" stroke-width="0.3">$4,200,000</text>
<text x="1211.68" y="612.60" font-size="7.86" fill="#222" textLength="36.23" lengthAdjust="spacingAndGlyphs" stroke="#222" stroke-width="0.3">$5,600,000</text>
<text x="1265.98" y="612.60" font-size="7.86" fill="#222" textLength="36.12" lengthAdjust="spacingAndGlyphs" stroke="#222" stroke-width="0.3">$7,000,000</text>
<text x="259.75" y="670.10" font-size="15.51" fill="#151515" textLength="91.36" lengthAdjust="spacingAndGlyphs" stroke="#151515" stroke-width="0.3">What I Follow</text>
<text x="258.59" y="705.20" font-size="13.44" fill="#0b6fc4" font-weight="700" textLength="27.00" lengthAdjust="spacingAndGlyphs">Post</text>
<text x="323.38" y="705.20" font-size="13.44" fill="#0b6fc4" font-weight="700" textLength="21.84" lengthAdjust="spacingAndGlyphs">File</text>
<text x="383.81" y="705.20" font-size="13.44" fill="#0b6fc4" font-weight="700" textLength="25.04" lengthAdjust="spacingAndGlyphs">Link</text>
<text x="444.80" y="705.20" font-size="13.44" fill="#0b6fc4" font-weight="700" textLength="54.67" lengthAdjust="spacingAndGlyphs">Snapshot</text>
<text x="243.35" y="738.50" font-size="15.82" fill="#333" textLength="170.34" lengthAdjust="spacingAndGlyphs" stroke="#333" stroke-width="0.3">What are you working on</text>
<text x="567.59" y="738.70" font-size="15.82" fill="#fff" text-anchor="middle" textLength="38.63" lengthAdjust="spacingAndGlyphs" stroke="#fff" stroke-width="0.15">Share</text>
<svg x="285" y="755" width="120" height="10.2" viewBox="285 755 120 10.2"><text x="293.07" y="776.2" font-size="19" font-weight="700" fill="#111" textLength="45.07" lengthAdjust="spacingAndGlyphs">Bob Sl</text></svg>
<text x="697.05" y="665.90" font-size="15.30" fill="#151515" textLength="271.21" lengthAdjust="spacingAndGlyphs" stroke="#151515" stroke-width="0.3">Financials - Balance Sheet Details by En</text>
<text x="697.87" y="681.70" font-size="11.79" fill="#1a1a1a" textLength="99.88" lengthAdjust="spacingAndGlyphs" stroke="#1a1a1a" stroke-width="0.3">02/22/2021 17:52:12</text>
<text x="807.90" y="718.00" font-size="8.89" fill="#222" text-anchor="end" textLength="34.26" lengthAdjust="spacingAndGlyphs" stroke="#222" stroke-width="0.3">California</text>
<text x="808.29" y="728.00" font-size="8.89" fill="#222" text-anchor="end" textLength="43.49" lengthAdjust="spacingAndGlyphs" stroke="#222" stroke-width="0.3">Year to Date</text>
<text x="808.25" y="737.70" font-size="8.89" fill="#222" text-anchor="end" textLength="42.84" lengthAdjust="spacingAndGlyphs" stroke="#222" stroke-width="0.3">10/03/2020</text>
<text x="861.02" y="718.00" font-size="8.89" fill="#222" text-anchor="end" textLength="24.82" lengthAdjust="spacingAndGlyphs" stroke="#222" stroke-width="0.3">Florida</text>
<text x="861.39" y="728.00" font-size="8.89" fill="#222" text-anchor="end" textLength="43.49" lengthAdjust="spacingAndGlyphs" stroke="#222" stroke-width="0.3">Year to Date</text>
<text x="861.35" y="737.70" font-size="8.89" fill="#222" text-anchor="end" textLength="42.84" lengthAdjust="spacingAndGlyphs" stroke="#222" stroke-width="0.3">10/03/2020</text>
<text x="913.27" y="718.00" font-size="8.89" fill="#222" text-anchor="end" textLength="22.69" lengthAdjust="spacingAndGlyphs" stroke="#222" stroke-width="0.3">Maine</text>
<text x="913.29" y="728.00" font-size="8.89" fill="#222" text-anchor="end" textLength="43.49" lengthAdjust="spacingAndGlyphs" stroke="#222" stroke-width="0.3">Year to Date</text>
<text x="913.25" y="737.70" font-size="8.89" fill="#222" text-anchor="end" textLength="42.84" lengthAdjust="spacingAndGlyphs" stroke="#222" stroke-width="0.3">10/03/2020</text>
<text x="966.35" y="718.00" font-size="8.89" fill="#222" text-anchor="end" textLength="20.76" lengthAdjust="spacingAndGlyphs" stroke="#222" stroke-width="0.3">Texas</text>
<text x="966.39" y="728.00" font-size="8.89" fill="#222" text-anchor="end" textLength="43.49" lengthAdjust="spacingAndGlyphs" stroke="#222" stroke-width="0.3">Year to Date</text>
<text x="966.35" y="737.70" font-size="8.89" fill="#222" text-anchor="end" textLength="42.84" lengthAdjust="spacingAndGlyphs" stroke="#222" stroke-width="0.3">10/03/2020</text>
<text x="680.55" y="764.00" font-size="8.07" fill="#1010dc" font-weight="700" textLength="23.17" lengthAdjust="spacingAndGlyphs" stroke="#1010dc" stroke-width="0.25">Assets</text>
<text x="1041.15" y="666.40" font-size="15.30" fill="#151515" textLength="78.06" lengthAdjust="spacingAndGlyphs" stroke="#151515" stroke-width="0.3">AP Analysis</text>
<text x="1040.77" y="682.80" font-size="11.79" fill="#1a1a1a" textLength="100.38" lengthAdjust="spacingAndGlyphs" stroke="#1a1a1a" stroke-width="0.3">02/22/2021 17:52:12</text>
<text x="1020.76" y="721.50" font-size="9.10" fill="#222" text-anchor="end" textLength="19.75" lengthAdjust="spacingAndGlyphs" stroke="#222" stroke-width="0.3">6150</text>
<text x="1020.76" y="753.00" font-size="9.10" fill="#222" text-anchor="end" textLength="19.75" lengthAdjust="spacingAndGlyphs" stroke="#222" stroke-width="0.3">6000</text>
</g>
</svg>
</body></html>
